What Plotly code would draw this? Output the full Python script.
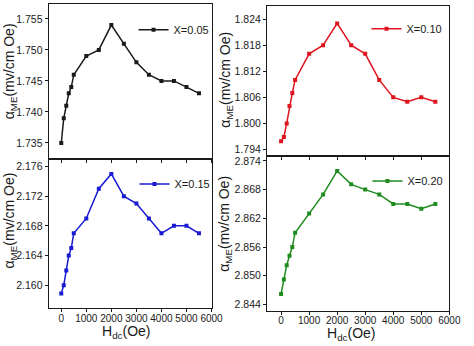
import plotly.graph_objects as go

h_dc = [0, 100, 200, 300, 400, 500, 1000, 1500, 2000, 2500, 3000, 3500, 4000, 4500, 5000, 5500]
a_005 = [1.735, 1.739, 1.741, 1.743, 1.744, 1.746, 1.749, 1.750, 1.754, 1.751, 1.748, 1.746, 1.745, 1.745, 1.744, 1.743]
a_010 = [1.7959, 1.7969, 1.800, 1.804, 1.807, 1.810, 1.816, 1.818, 1.823, 1.818, 1.816, 1.810, 1.806, 1.805, 1.806, 1.805]
a_015 = [2.1589, 2.160, 2.162, 2.164, 2.165, 2.167, 2.169, 2.173, 2.175, 2.172, 2.171, 2.169, 2.167, 2.168, 2.168, 2.167]
a_020 = [2.8462, 2.8492, 2.8522, 2.8542, 2.856, 2.859, 2.863, 2.867, 2.8719, 2.8691, 2.868, 2.867, 2.865, 2.865, 2.864, 2.865]

labels = ["X=0.05", "X=0.10", "X=0.15", "X=0.20"]
colors = ["#1a1a1a", "#e0141e", "#1a1ad2", "#1f8c1f"]

yt1 = [1.735, 1.740, 1.745, 1.750, 1.755]
yt2 = [1.794, 1.800, 1.806, 1.812, 1.818, 1.824]
yt3 = [2.160, 2.164, 2.168, 2.172, 2.176]
yt4 = [2.844, 2.850, 2.856, 2.862, 2.868, 2.874]
xt = [0, 1000, 2000, 3000, 4000, 5000, 6000]

W, H = 474, 346
def px(x):
    return x / W
def py(y):
    return 1 - y / H

FONT = "Arial, Liberation Sans, sans-serif"

fig = go.Figure()
series = [a_005, a_010, a_015, a_020]
for i, (ys, lab, col) in enumerate(zip(series, labels, colors)):
    n = "" if i == 0 else str(i + 1)
    fig.add_trace(go.Scatter(
        x=h_dc, y=ys, name=lab, mode="lines+markers",
        line=dict(color=col, width=1.5),
        marker=dict(symbol="square", size=4, color=col),
        xaxis="x" + n, yaxis="y" + n,
        legend="legend" + n,
    ))

# domains: [left, right, top, bottom] in pixels
doms = [(50, 217, 2, 158), (274, 461, 4, 155), (50, 217, 158, 308), (274, 461, 155, 311)]
yranges = [[1.7324, 1.7574], [1.7925, 1.8270], [2.1569, 2.1770], [2.8426, 2.8750]]
yticks = [yt1, yt2, yt3, yt4]
standoffs = [-2, -2, -2, -3]

axcommon = dict(showline=True, linecolor="#1a1a1a", linewidth=1.2, mirror=True,
                showgrid=False, zeroline=False, ticks="outside", ticklen=3,
                tickcolor="#1a1a1a", tickwidth=1,
                tickfont=dict(family=FONT, size=10.5, color="#1a1a1a"))
layout = {}
for i, (l, r, t, b) in enumerate(doms):
    n = "" if i == 0 else str(i + 1)
    layout["xaxis" + n] = dict(axcommon, domain=[px(l), px(r)], range=[-500, 6000],
                               tickvals=xt, showticklabels=(i >= 2), tickangle=0,
                               tickfont=dict(family=FONT, size=10, color="#1a1a1a"),
                               ticklabelstandoff=standoffs[i],
                               anchor="y" + n)
    layout["yaxis" + n] = dict(axcommon, domain=[py(b), py(t)], range=yranges[i],
                               tickvals=yticks[i], tickformat=".3f",
                               anchor="x" + n)

leg_pos = [(137, 28), (376, 27), (138, 183), (377, 180)]
for i, (lx, ly) in enumerate(leg_pos):
    n = "" if i == 0 else str(i + 1)
    layout["legend" + n] = dict(x=px(lx), y=py(ly), xanchor="left", yanchor="middle",
                                bgcolor="rgba(0,0,0,0)",
                                font=dict(family=FONT, size=11, color="#1a1a1a"))

ann = []
ytitle = "α<sub>ME</sub>(mv/cm Oe)"
for (xx, yy) in [(10, 70), (231, 78), (10, 220), (231, 223)]:
    ann.append(dict(text=ytitle, x=px(xx), y=py(yy), xref="paper", yref="paper",
                    textangle=-90, showarrow=False, xanchor="center", yanchor="middle",
                    font=dict(family=FONT, size=14, color="#1a1a1a")))
for (xx, yy) in [(129, 332), (360, 334)]:
    ann.append(dict(text="H<sub>dc</sub>(Oe)", x=px(xx), y=py(yy), xref="paper", yref="paper",
                    showarrow=False, xanchor="center", yanchor="middle",
                    font=dict(family=FONT, size=14, color="#1a1a1a")))

fig.update_layout(**layout)
fig.update_layout(width=W, height=H, margin=dict(l=0, r=0, t=0, b=0),
                  paper_bgcolor="white", plot_bgcolor="white",
                  showlegend=True, annotations=ann)
fig.write_html("out.html")
